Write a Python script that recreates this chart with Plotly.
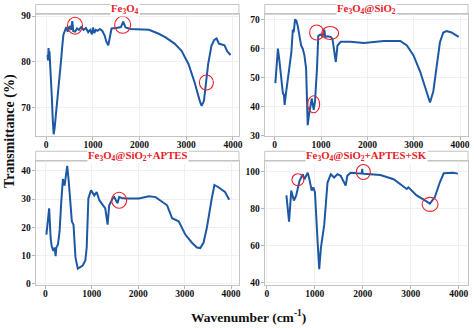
import plotly.graph_objects as go

# ---------------- data ----------------
wn_fe3o4 = [30, 40, 50, 60, 70, 85, 100, 120, 140, 160, 180, 200, 230, 260, 290, 320, 345, 370,
            400, 430, 460, 500, 530, 560, 580, 620, 660, 700, 750, 800, 850, 900, 940, 980,
            1000, 1030, 1060, 1100, 1150, 1200, 1250, 1290, 1330, 1360, 1400, 1500, 1600, 1650,
            1700, 1800, 2000, 2200, 2400, 2550, 2750, 2900, 3050, 3180, 3290, 3330, 3380, 3420,
            3470, 3540, 3600, 3650, 3700, 3760, 3820, 3880, 3950]
t_fe3o4 = [81.5, 80.3, 83.0, 80.5, 82.3, 80.0, 77.0, 72.5, 67.5, 64.2, 65.5, 67.5, 70.0, 73.0,
           76.5, 80.5, 83.5, 86.0, 86.8, 87.6, 86.6, 87.8, 87.0, 88.9, 86.7, 86.6, 87.3, 87.0,
           87.6, 87.0, 87.4, 86.5, 87.0, 86.0, 87.5, 86.3, 87.0, 86.8, 87.2, 86.8, 85.8, 84.4,
           83.6, 85.5, 87.3, 87.4, 87.6, 88.8, 87.5, 87.2, 87.1, 87.0, 86.2, 85.4, 84.0, 82.4,
           79.5, 75.5, 71.5, 70.4, 71.5, 75.0, 79.5, 83.5, 84.8, 85.1, 84.0, 83.8, 83.6, 82.3, 81.5]

wn_sio2 = [15, 40, 70, 100, 143, 178, 200, 215, 240, 286, 330, 360, 392, 410, 440, 470, 499, 535,
           570, 606, 642, 678, 700, 713, 740, 770, 800, 842, 870, 913, 941, 984, 1030, 1070,
           1090, 1150, 1212, 1248, 1284, 1319, 1355, 1426, 1640, 1925, 2353, 2710, 2852, 2995,
           3138, 3280, 3351, 3423, 3494, 3565, 3637, 3708, 3815, 3922, 3970]
t_sio2 = [48.0, 54.0, 59.9, 56.0, 49.7, 44.4, 44.0, 40.5, 44.0, 49.7, 55.0, 58.6, 66.5, 65.5,
          70.0, 69.5, 67.7, 64.4, 61.0, 59.9, 57.6, 53.1, 43.0, 33.5, 37.0, 40.5, 42.7, 38.8,
          41.6, 53.0, 64.3, 64.8, 64.2, 66.5, 64.0, 64.2, 63.9, 63.2, 58.7, 55.3, 61.0, 62.3,
          62.3, 61.9, 62.6, 62.6, 61.0, 57.6, 52.0, 45.2, 41.3, 45.2, 53.1, 62.1, 65.5, 66.0,
          65.5, 64.4, 64.0]

wn_aptes = [21, 56, 80, 112, 134, 170, 199, 220, 234, 270, 305, 341, 376, 412, 447, 469, 498, 533,
            569, 605, 647, 697, 750, 803, 860, 889, 925, 982, 1054, 1104, 1161, 1232, 1289, 1339,
            1374, 1446, 1482, 1553, 1589, 1646, 1731, 2016, 2230, 2373, 2515, 2622, 2729, 2871,
            3014, 3157, 3264, 3335, 3406, 3477, 3584, 3641, 3727, 3869, 3960]
t_aptes = [17.4, 22.0, 26.7, 16.2, 13.3, 11.6, 12.8, 9.7, 12.8, 13.9, 18.6, 29.0, 37.1, 34.8,
           40.6, 41.8, 37.1, 29.0, 22.1, 20.9, 9.3, 5.3, 5.8, 6.4, 8.2, 12.8, 30.2, 33.1, 31.3,
           32.5, 29.6, 27.8, 26.7, 20.9, 27.8, 30.2, 30.7, 28.5, 30.7, 30.4, 30.2, 30.2, 31.0,
           30.7, 29.0, 27.8, 23.2, 22.1, 17.4, 14.5, 12.8, 12.6, 14.5, 19.7, 30.2, 35.0, 34.2,
           32.5, 29.8]

wn_sk = [407, 462, 508, 563, 611, 680, 748, 783, 817, 851, 886, 934, 968, 1002, 1057, 1091, 1126,
         1195, 1264, 1333, 1402, 1470, 1539, 1608, 1643, 1677, 1746, 1884, 1980, 1987, 1995, 2022,
         2366, 2642, 2779, 2882, 2917, 2951, 3123, 3295, 3398, 3502, 3605, 3688, 3880, 3983]
t_sk = [87.1, 72.9, 89.7, 84.4, 87.1, 95.0, 98.6, 95.9, 97.7, 99.4, 95.9, 89.7, 91.5, 88.8,
        62.3, 47.3, 58.8, 71.2, 94.1, 98.6, 96.8, 98.6, 97.7, 94.1, 92.4, 97.7, 99.4, 99.1,
        99.0, 101.5, 99.0, 98.9, 98.2, 95.9, 93.3, 91.5, 90.6, 91.5, 87.1, 84.4, 82.7, 86.2,
        94.1, 99.1, 99.4, 98.9]

panel_titles = ["Fe<sub>3</sub>O<sub>4</sub>",
                "Fe<sub>3</sub>O<sub>4</sub>@SiO<sub>2</sub>",
                "Fe<sub>3</sub>O<sub>4</sub>@SiO<sub>2</sub>+APTES",
                "Fe<sub>3</sub>O<sub>4</sub>@SiO<sub>2</sub>+APTES+SK"]

x_ticks = [0, 1000, 2000, 3000, 4000]
y_ticks = [[70, 80, 90], [30, 40, 50, 60, 70], [0, 10, 20, 30, 40], [40, 60, 80, 100]]

# marked bands (x, y) per panel
circle_x = [[617, 1638, 3432], [905, 1198, 841], [1588], [647, 2011, 3403]]
circle_y = [[87.9, 88.1, 75.5], [65.5, 65.3, 40.7], [29.6], [95.6, 99.8, 82.3]]

# ---------------- layout geometry ----------------
W, H = 474, 328
cols = [(36, 241), (267, 472)]
rows = [(11.5, 136), (161.5, 288)]
x_ranges = [[-225, 4130], [-214, 4171], [-210, 4170], [-45, 4194]]
y_ranges = [[63.8, 90.4], [29.7, 71.8], [-0.45, 43.5], [38.8, 105.7]]
title_x_px = [126, 370, 139, 370]
circle_sizes = [[(15, 17), (16, 17), (14, 15)], [(14, 15), (17, 13), (12, 17)], [(15, 16)],
                [(12, 12), (14, 15), (16, 14)]]

serif = "Liberation Serif"
line_color = "#1D58A4"
red = "#E8202A"

fig = go.Figure()
series = [(wn_fe3o4, t_fe3o4), (wn_sio2, t_sio2), (wn_aptes, t_aptes), (wn_sk, t_sk)]
shapes = []
annotations = []
for i, (xs, ys) in enumerate(series):
    r, c = divmod(i, 2)
    xa = "x" if i == 0 else f"x{i+1}"
    ya = "y" if i == 0 else f"y{i+1}"
    fig.add_trace(go.Scatter(x=xs, y=ys, mode="lines", xaxis=xa, yaxis=ya,
                             line=dict(color=line_color, width=2), showlegend=False,
                             hoverinfo="skip"))
    x0, x1 = cols[c]
    top, bot = rows[r]
    dom_x = [x0 / W, x1 / W]
    dom_y = [1 - bot / H, 1 - top / H]
    axcommon = dict(showgrid=True, gridcolor="#F0F0F0", gridwidth=0.6,
                    showline=True, mirror=True, linecolor="#C4C4C4", linewidth=1,
                    ticks="outside", ticklen=3, tickcolor="#B5B5B5", zeroline=False,
                    tickfont=dict(family=serif, size=9.5, color="#111111", weight="bold"))
    fig.layout[("xaxis" if i == 0 else f"xaxis{i+1}")] = dict(
        domain=dom_x, anchor=ya, range=x_ranges[i], tickvals=x_ticks,
        ticklabelstandoff=-3, **axcommon)
    fig.layout[("yaxis" if i == 0 else f"yaxis{i+1}")] = dict(
        domain=dom_y, anchor=xa, range=y_ranges[i], tickvals=y_ticks[i],
        ticklabelstandoff=-1, **axcommon)
    # strip
    st_top = top - 10
    shapes.append(dict(type="rect", xref="paper", yref="paper",
                       x0=x0 / W, x1=x1 / W, y0=1 - top / H, y1=1 - st_top / H,
                       line=dict(color="#C4C4C4", width=1), fillcolor="white", layer="below"))
    annotations.append(dict(text=panel_titles[i], xref="paper", yref="paper",
                            x=title_x_px[i] / W, y=1 - (top - 5) / H,
                            xanchor="center", yanchor="middle",
                            showarrow=False, bgcolor="white", borderpad=0,
                            font=dict(family=serif, size=10.8, color=red, weight="bold")))
    for (cx, cy), (w, h) in zip(zip(circle_x[i], circle_y[i]), circle_sizes[i]):
        shapes.append(dict(type="circle", xref=xa, yref=ya, xsizemode="pixel", ysizemode="pixel",
                           xanchor=cx, yanchor=cy, x0=-w / 2, x1=w / 2, y0=-h / 2, y1=h / 2,
                           line=dict(color=red, width=1.1)))

annotations.append(dict(text="Transmittance (%)", xref="paper", yref="paper", x=10 / W,
                        y=1 - 131 / H, textangle=-90, showarrow=False,
                        xanchor="center", yanchor="middle",
                        font=dict(family=serif, size=14, color="#111111", weight="bold")))
annotations.append(dict(text="Wavenumber (cm<sup>-1</sup>)", xref="paper", yref="paper",
                        x=251 / W, y=1 - 320 / H, showarrow=False,
                        xanchor="center", yanchor="middle",
                        font=dict(family=serif, size=13.5, color="#111111", weight="bold")))

fig.update_layout(width=W, height=H, margin=dict(l=0, r=0, t=0, b=0),
                  paper_bgcolor="white", plot_bgcolor="white",
                  shapes=shapes, annotations=annotations)
fig.write_html("out.html")
